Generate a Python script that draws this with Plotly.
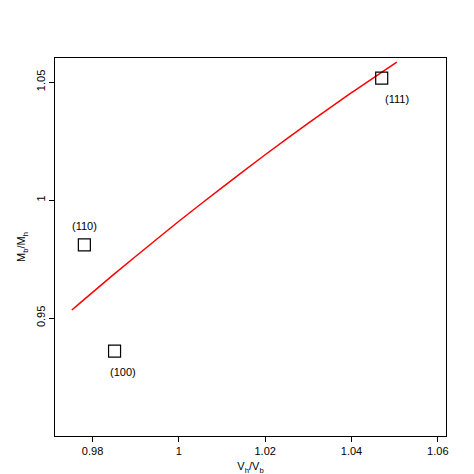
import plotly.graph_objects as go

pts_x = [1.047, 0.9781, 0.9851]
pts_y = [1.0517, 0.981, 0.936]
pts_lab = ["(111)", "(110)", "(100)"]
lab_dx = [0.0035, 0.0, 0.002]
lab_dy = [-0.009, 0.008, -0.009]

line_x = [0.9752, 0.985, 0.995, 1.0, 1.01, 1.02, 1.03, 1.04, 1.0505]
line_y = [0.9534, 0.9686, 0.9836, 0.9910, 1.0053, 1.0192, 1.0326, 1.0455, 1.0585]

fig = go.Figure()
fig.add_trace(go.Scatter(x=line_x, y=line_y, mode="lines", line=dict(color="red", width=1.5, shape="spline", smoothing=0.6)))
fig.add_trace(go.Scatter(x=pts_x, y=pts_y, mode="markers",
                         marker=dict(symbol="square-open", size=12, color="black", line=dict(width=1.2))))
for x, y, t, dx, dy in zip(pts_x, pts_y, pts_lab, lab_dx, lab_dy):
    fig.add_annotation(x=x + dx, y=y + dy, text=t, showarrow=False, font=dict(size=11, color="black"))

ax = dict(showgrid=False, zeroline=False, showline=True, mirror=True, linecolor="black", linewidth=1,
          ticks="outside", ticklen=5, tickcolor="black", tickfont=dict(size=11, color="black"), automargin=False)
fig.update_xaxes(**ax, range=[0.9713, 1.0619], tickvals=[0.98, 1, 1.02, 1.04, 1.06],
                 ticktext=["0.98", "1", "1.02", "1.04", "1.06"],
                 title=dict(text="V<sub>h</sub>/V<sub>b</sub>", font=dict(size=11), standoff=6))
fig.update_yaxes(**ax, range=[0.9, 1.0602], tickvals=[0.95, 1, 1.05], ticktext=["0.95", "1", "1.05"],
                 tickangle=-90, title=dict(text="M<sub>b</sub>/M<sub>h</sub>", font=dict(size=11), standoff=6))
fig.update_layout(width=474, height=474, showlegend=False, plot_bgcolor="white", paper_bgcolor="white",
                  font=dict(family="Liberation Sans, Arial", color="black"),
                  margin=dict(l=47, r=36, t=50, b=46, autoexpand=False))
fig.write_html("out.html")
